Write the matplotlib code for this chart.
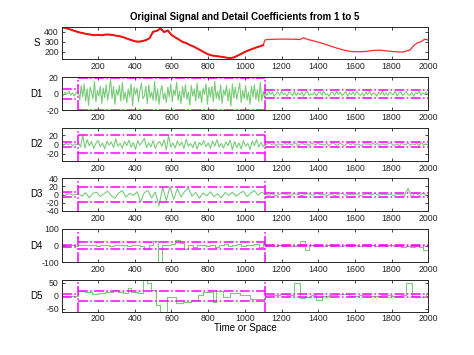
import numpy as np
import matplotlib
matplotlib.use('Agg')
import matplotlib.pyplot as plt

plt.rcParams['font.family'] = ['Liberation Sans', 'DejaVu Sans']
plt.rcParams['axes.unicode_minus'] = False

# change points (segment limits) and thresholds per segment
cuts = [1, 92, 1110, 2000]
thr_left = [6, 6, 6, 6, 5]
thr_mid = [19.5, 19, 19, 19, 19]
thr_right = [5, 5, 5, 4, 5]

# original signal
s_left = [450, 440, 430, 417, 405, 394, 386, 378, 372, 366, 370, 365, 373, 373, 368, 361, 355, 344, 330, 317,
          305, 300, 306, 316, 335, 402, 410, 435, 398, 415, 368, 345, 323, 298, 287, 266, 252, 232, 212, 190,
          172, 160, 155, 150, 145, 138, 133, 140, 158, 176, 197, 212, 226, 240, 252, 265]
s_right_x = [1110, 1120, 1160, 1200, 1240, 1280, 1300, 1320, 1340, 1380, 1420, 1460, 1500, 1540, 1580, 1620,
             1660, 1700, 1740, 1780, 1820, 1860, 1900, 1920, 1940, 1960, 1980, 2000]
s_right = [318, 322, 325, 327, 326, 325, 322, 340, 325, 306, 285, 260, 236, 215, 200, 198,
           201, 212, 214, 205, 198, 195, 215, 260, 288, 300, 325, 318]

# detail D1
d1_left = [1, -2, 2, -1, 3, -2, 1, -3, 2, 0]
d1_mid = [3, -8, 10, -4, 12, -9, 6, -14, 8, 2, -6, 15, -10, 4, -3, 9, -12, 7, -5, 11,
          -8, 3, 18, -6, 9, -13, 5, -2, 10, -9, 14, -7, 2, -11, 6, -4, 12, -15, 8, -1,
          7, -10, 4, 13, -6, -3, 9, -12, 11, -5, 2, -8, 15, -9, 6, -13, 3, 10, -7, 1,
          -11, 8, -4, 12, -10, 5, -2, 14, -8, 3, -12, 9, -5, 11, -7, 2, -14, 10, -3, 6,
          -9, 13, -6, 4, -11, 7, -1, 12, -13, 8, -4, 9, -10, 15, -6, 3, -8, 11, -12, 5,
          -2, 10, -9, 6, -15, 12, -5, 8, -7, 3, 13, -11, 4, -6, 10, -8, 2, -13, 9, -4,
          11, -7, 5, -10, 14, -9, 3, -5]
d1_right = [1, -2, 3, -1, 2, -3, 0, 2, -2, 3, -1, 1, -3, 2, 0, -2, 3, -2, 1, -1,
            2, -3, 1, 3, -2, 0, -1, 2, -3, 1, 2, -2, 3, -1, 0, -3, 2, 1, -2, 3,
            -1, 2, -2, 0, 3, -3, 1, -1, 2, -2, 3, 0, -2, 1, -3, 2, -1, 3, -2, 1,
            0, -3, 2, -1, 3, -2, 1, -2, 2, 0, -1, 3, -3, 1, 2, -2, 0, 3, -1, -2,
            2, -3, 1, 0, 3, -2, 1, -1, 2, -2]

# detail D2
d2_left = [1, -2, 3, -1, 2, -3, 1, -1]
d2_mid = [4, -6, 20, -8, 10, -3, 6, -9, 2, 8, -5, 3, -10, 7, -2, 5, -7, 12, -4, 2,
          -8, 6, -3, 9, -6, 4, -11, 8, -2, 5, 13, -7, 3, -5, 8, -9, 2, 6, -4, 10,
          -12, 20, -6, 3, -8, 7, -3, 5, -9, 11, -4, 2, -7, 6, -10, 4, -2, 8, -5, 3,
          -9, 7, -4, 10, -6, 2, -8, 5, -3, 9, -12, 6, -7, 3, -10, 8, -4, 2, -11, 7,
          -3, 10, -6, 4, -5]
d2_right = [-2, 1, 3, -1, 2, -3, 1, 0, -2, 3, -1, 2, -2, 1, 3, -3, 0, 2, -1, 1,
            -3, 2, 1, -2, 3, -1, 0, -2, 2, -3, 1, 3, -1, -2, 2, 0, -3, 1, 2, -1,
            3, -2, 1, -1, -3, 2, 0, 1, -2, 3, -1, 2, -3, 1, 0, -2, 2, 3, -1, -2,
            1, -3, 2, 0, -1, 3, -2, 1, -1, 2, -3, 4, -2, 1, -1]

# detail D3
d3_left = [1, -2, 2, -1, 0]
d3_mid = [2, -4, 5, -8, 3, 6, -5, 2, 8, -3, -9, 4, 10, -6, 3, -2, 7, -18, 5, 10,
          -8, 6, -28, 18, -15, 20, -12, 15, -6, 8, 16, -4, 6, -9, 4, -3, 7, -5, 2, -8,
          5, -2, 6, -4, 3, 8, -5, 4, 10, -2, 6]
d3_right = [1, -2, 2, -3, 1, 3, -1, -2, 2, 0, -3, 1, 2, -2, 3, -1, 0, -2, 2, -3,
            1, 3, -2, 1, -1, 2, -3, 0, 2, -1, 3, -2, 1, -1, 2, -3, 1, 0, -2, 15,
            -6, 4, -2, 3, -1]

# detail D4 (piecewise constant)
d4_left = [2, -1, 1, -2]
d4_mid = [4, 2, 6, 3, -3, 5, 4, -2, 3, 6, 2, -4, 5, 3, -2, -22, 4, 28, -100, 6,
          2, 10, 36, 18, -20, 5, -8, 4, 2, -5, 6, -6, 3, 7, -3, 4, 8, -4, 6, 2,
          10, -6, 14]
d4_right = [-3, 2, -1, 3, -2, 1, -2, 2, 30, -26, 2, -1, 3, -2, 1, -3, 2, -1, 1, -2,
            3, -1, 2, -2, 1, -3, 2, -1, 3, -2, 1, -8, -2, -6, 2, -10, -26]

# detail D5 (piecewise constant, start of each step)
d5_x = [1, 92, 127, 164, 200, 236, 282, 309, 336, 364, 382, 418, 445, 467, 491, 518, 536, 573, 627, 664,
        709, 745, 773, 827, 845, 882, 918, 973, 1027, 1110, 1150, 1190, 1230, 1270, 1300, 1330, 1360, 1390,
        1420, 1460, 1500, 1540, 1570, 1620, 1680, 1740, 1800, 1850, 1880, 1910, 1950, 1990, 2000]
d5_y = [-3, 20, 16, 6, 9, 16, 22, 16, 9, 29, 16, 9, 80, 48, 22, -37, -80, -4, -30, -24,
        -17, 3, 16, -24, 20, -4, 9, 3, -14, 4, 2, 5, 1, 50, -10, -5, 3, -15,
        -3, 2, 5, 8, 0, 3, -2, 2, -3, 1, 50, -2, -5, 10, 10]

labels = ['S', 'D1', 'D2', 'D3', 'D4', 'D5']
ylims = [(125, 450), (-20, 20), (-35.5, 35.5), (-41, 42), (-100, 100), (-62, 62)]
yticks = [[200, 300, 400], [-20, 0, 20], [-20, 0, 20], [-40, -20, 0, 20, 40], [-100, 0, 100], [-50, 0, 50]]
bottoms = [0.834, 0.690, 0.547, 0.405, 0.261, 0.122]
heights = [0.090, 0.092, 0.093, 0.095, 0.094, 0.090]

green = '#78cc78'
magenta = '#ff00ff'

fig = plt.figure(figsize=(4.74, 3.55), dpi=100)
axes = []
for i in range(6):
    ax = fig.add_axes([0.130, bottoms[i], 0.7735, heights[i]])
    axes.append(ax)

# top: signal
ax = axes[0]
ax.plot(list(range(0, 1101, 20)) + s_right_x, s_left + s_right, color='#ff2a2a', lw=0.9)
ax.plot(range(0, 1101, 20), s_left, color='#ee1111', lw=1.4)
ax.set_title('Original Signal and Detail Coefficients from 1 to 5', fontsize=7, fontweight='bold', pad=5)

# detail coefficients
details = [
    (d1_left, d1_mid, d1_right, 10, 8, 10),
    (d2_left, d2_mid, d2_right, 12, 12, 12),
    (d3_left, d3_mid, d3_right, 20, 20, 20),
]
for k, (dl, dm, dr, sl, sm, sr) in enumerate(details):
    ax = axes[k + 1]
    x = list(np.arange(len(dl)) * sl + 1) + list(np.arange(len(dm)) * sm + cuts[1]) + \
        list(np.arange(len(dr)) * sr + cuts[2])
    ax.plot(x, dl + dm + dr, color=green, lw=0.8)

# D4 steps
ax = axes[4]
x4 = list(np.arange(len(d4_left)) * 24 + 1) + list(np.arange(len(d4_mid)) * 24 + cuts[1]) + \
    list(np.arange(len(d4_right)) * 24 + cuts[2]) + [2000]
y4 = d4_left + d4_mid + d4_right + [d4_right[-1]]
ax.plot(x4, y4, color=green, lw=0.8, drawstyle='steps-post')

# D5 steps
ax = axes[5]
ax.plot(d5_x, d5_y, color=green, lw=0.8, drawstyle='steps-post')

# change points and thresholds
for k in range(1, 6):
    ax = axes[k]
    for t, (a, b) in zip([thr_left[k - 1], thr_mid[k - 1], thr_right[k - 1]],
                         [(cuts[0], cuts[1]), (cuts[1], cuts[2]), (cuts[2], cuts[3])]):
        ax.plot([a, b], [t, t], color=magenta, ls='-.', lw=1.1)
        ax.plot([a, b], [-t, -t], color=magenta, ls='-.', lw=1.1)
    for c in cuts[1:3]:
        ax.plot([c, c], list(ylims[k]), color=magenta, ls='-.', lw=1.1)

for i, ax in enumerate(axes):
    ax.set_xlim(1, 2000)
    ax.set_ylim(*ylims[i])
    ax.set_xticks(range(200, 2001, 200))
    ax.set_yticks(yticks[i])
    ax.tick_params(direction='in', length=2.5, width=0.6, labelsize=6.3, pad=2,
                   top=True, right=True, colors='#262626')
    for sp in ax.spines.values():
        sp.set_linewidth(0.7)
        sp.set_color('#262626')
    ax.set_ylabel(labels[i], rotation=0, fontsize=7, va='center', ha='center')
    ax.yaxis.set_label_coords(-0.068, 0.5)

axes[5].set_xlabel('Time or Space', fontsize=7, labelpad=0)

fig.savefig('out.png', dpi=100)
